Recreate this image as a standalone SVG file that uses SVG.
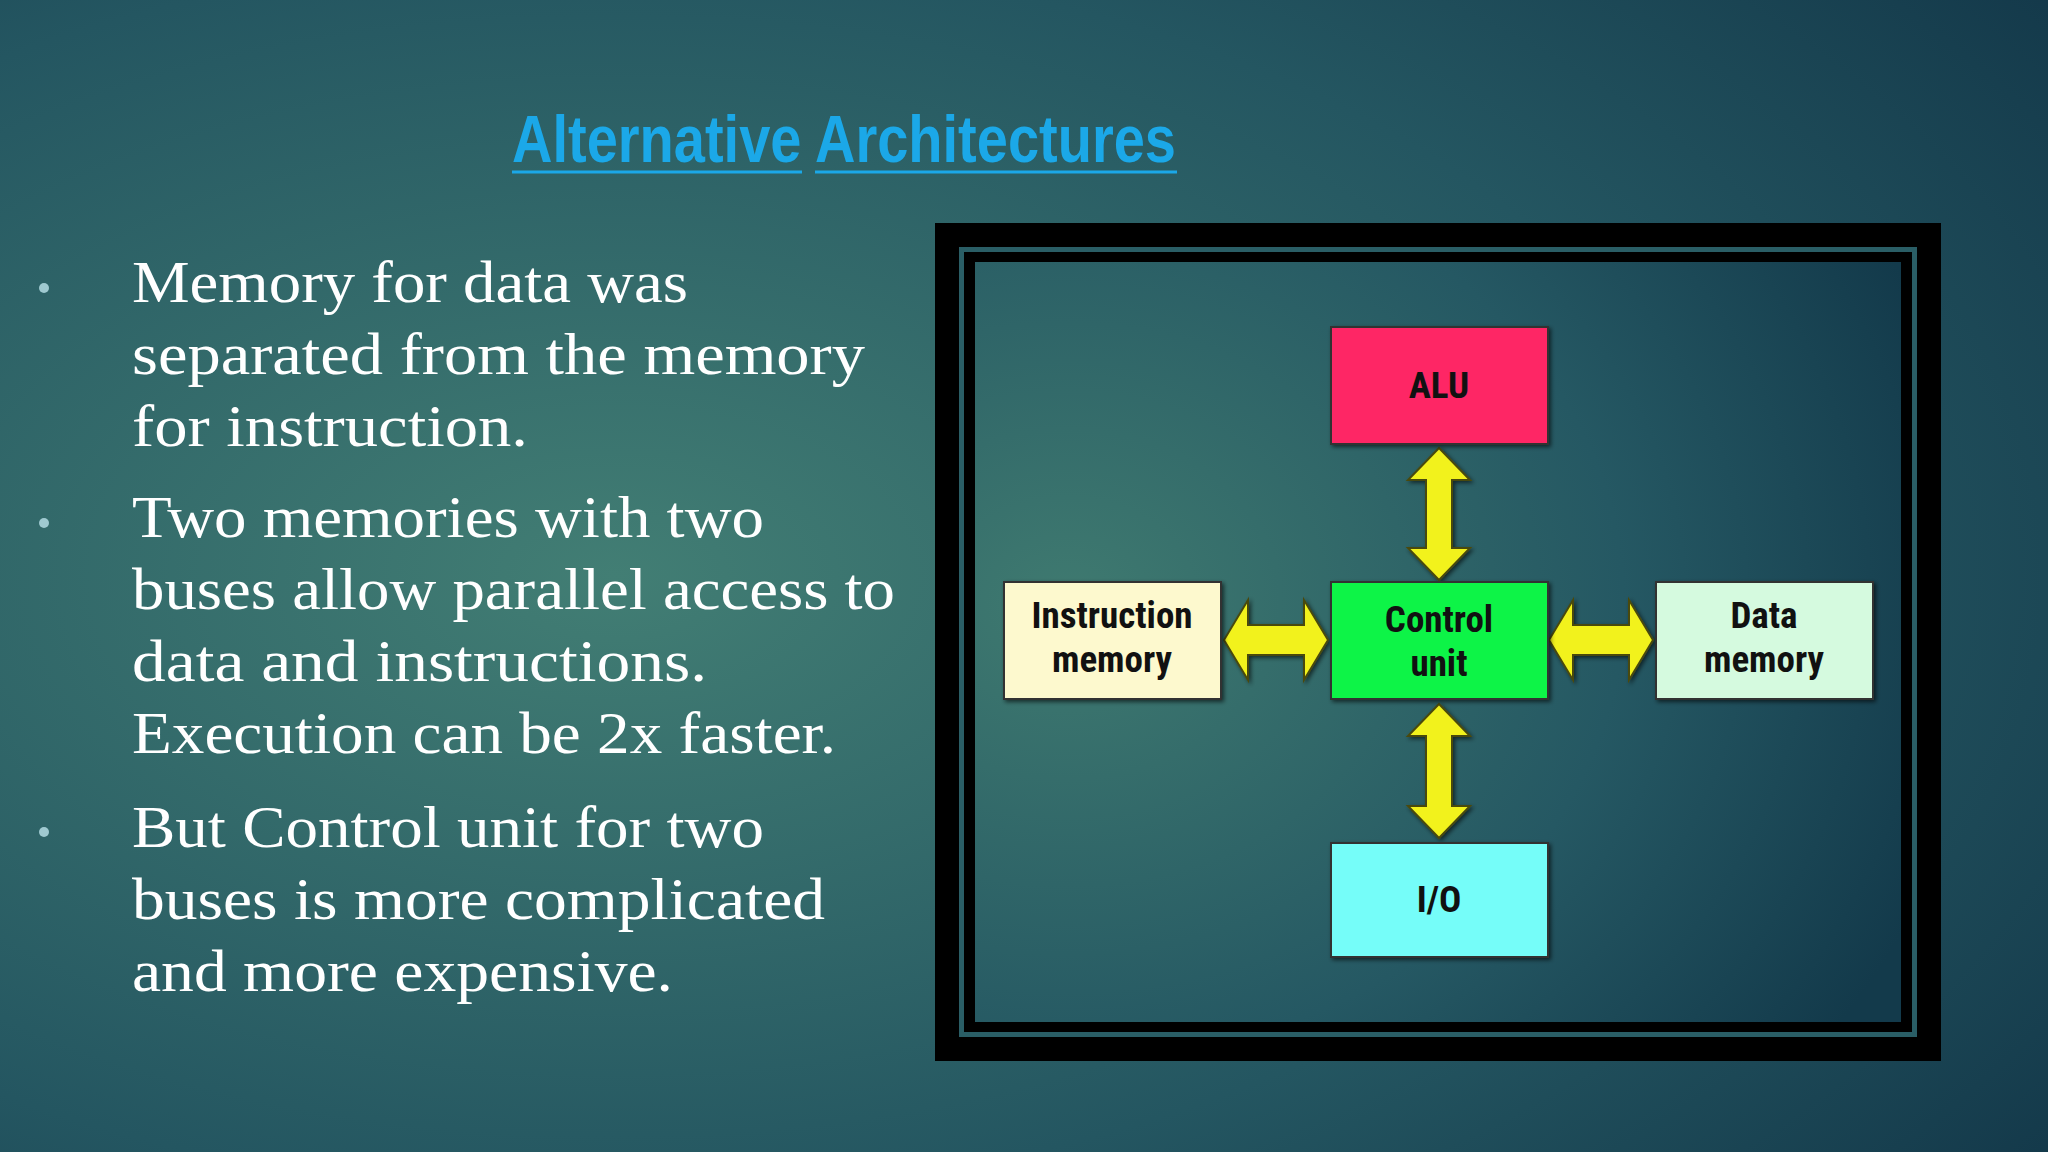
<svg xmlns="http://www.w3.org/2000/svg" width="2048" height="1152" viewBox="0 0 2048 1152">
<defs>
<radialGradient id="bg" cx="0.3" cy="0.5" r="0.9">
<stop offset="0" stop-color="#427e74"/><stop offset="0.6" stop-color="#245661"/><stop offset="1" stop-color="#123648"/>
</radialGradient>
<radialGradient id="pn" cx="0.1" cy="0.45" r="1">
<stop offset="0" stop-color="#3f7a70"/><stop offset="0.6" stop-color="#255863"/><stop offset="1" stop-color="#133a4b"/>
</radialGradient>
<filter id="sh" x="-10%" y="-10%" width="130%" height="130%"><feDropShadow dx="2" dy="2" stdDeviation="2" flood-color="#000" flood-opacity="0.6"/></filter>
</defs>
<style>
.b{font-family:"Liberation Serif","DejaVu Serif",serif;font-size:60px;fill:#fff}
.dot{fill:#9fc9d0}
.n{stroke:#333;stroke-width:2;filter:url(#sh)}
.t{font-family:"Liberation Sans Narrow","Roboto Condensed","Liberation Sans",sans-serif;font-size:37px;font-weight:bold;fill:#111;text-anchor:middle}
.ar{fill:#f2f21c;stroke:#4a4a10;stroke-width:2;filter:url(#sh)}
</style>
<rect width="2048" height="1152" fill="url(#bg)"/>
<g id="title">
<text x="844" y="162" text-anchor="middle" font-family="Liberation Sans Narrow,Liberation Sans,sans-serif" font-weight="bold" font-size="66" fill="#1ba8e8" textLength="664" lengthAdjust="spacingAndGlyphs">Alternative Architectures</text>
<line x1="512" y1="172" x2="802" y2="172" stroke="#1ba8e8" stroke-width="3"/>
<line x1="815" y1="172" x2="1177" y2="172" stroke="#1ba8e8" stroke-width="3"/>
</g>
<g id="bullets">
<circle class="dot" cx="44" cy="288" r="5"/><circle class="dot" cx="44" cy="523" r="5"/><circle class="dot" cx="44" cy="832" r="5"/>
<text class="b" x="132" y="302" textLength="556" lengthAdjust="spacingAndGlyphs">Memory for data was</text>
<text class="b" x="132" y="374" textLength="733" lengthAdjust="spacingAndGlyphs">separated from the memory</text>
<text class="b" x="132" y="446" textLength="396" lengthAdjust="spacingAndGlyphs">for instruction.</text>
<text class="b" x="132" y="537" textLength="632" lengthAdjust="spacingAndGlyphs">Two memories with two</text>
<text class="b" x="132" y="609" textLength="763" lengthAdjust="spacingAndGlyphs">buses allow parallel access to</text>
<text class="b" x="132" y="681" textLength="575" lengthAdjust="spacingAndGlyphs">data and instructions.</text>
<text class="b" x="132" y="753" textLength="704" lengthAdjust="spacingAndGlyphs">Execution can be 2x faster.</text>
<text class="b" x="132" y="847" textLength="632" lengthAdjust="spacingAndGlyphs">But Control unit for two</text>
<text class="b" x="132" y="919" textLength="693" lengthAdjust="spacingAndGlyphs">buses is more complicated</text>
<text class="b" x="132" y="991" textLength="541" lengthAdjust="spacingAndGlyphs">and more expensive.</text>
</g>
<g id="frame">
<rect x="935" y="223" width="1006" height="838" fill="#000"/>
<rect x="959" y="247" width="958" height="790" fill="#2a5e66"/>
<rect x="964" y="252" width="948" height="780" fill="#000"/>
<rect x="975" y="262" width="926" height="760" fill="url(#pn)"/>
</g>
<g id="connectors">
<polygon class="ar" points="1439,448 1470,480 1452,480 1452,548 1470,548 1439,580 1408,548 1426,548 1426,480 1408,480"/>
<polygon class="ar" points="1439,704 1470,736 1452,736 1452,806 1470,806 1439,838 1408,806 1426,806 1426,736 1408,736"/>
<polygon class="ar" points="1224,640 1248,600 1248,625 1304,625 1304,600 1328,640 1304,680 1304,655 1248,655 1248,680"/>
<polygon class="ar" points="1549,640 1573,600 1573,625 1629,625 1629,600 1653,640 1629,680 1629,655 1573,655 1573,680"/>
</g>
<g id="alu"><rect class="n" x="1331" y="327" width="217" height="117" fill="#fe2765"/><text class="t" x="1439" y="398">ALU</text></g>
<g id="control"><rect class="n" x="1331" y="582" width="217" height="117" fill="#0df447"/><text class="t" x="1439" y="632">Control</text><text class="t" x="1439" y="676">unit</text></g>
<g id="io"><rect class="n" x="1331" y="843" width="217" height="114" fill="#74fdf9"/><text class="t" x="1439" y="912">I/O</text></g>
<g id="imem"><rect class="n" x="1004" y="582" width="217" height="117" fill="#fdf9ce"/><text class="t" x="1112" y="628">Instruction</text><text class="t" x="1112" y="672">memory</text></g>
<g id="dmem"><rect class="n" x="1656" y="582" width="217" height="117" fill="#d5fadf"/><text class="t" x="1764" y="628">Data</text><text class="t" x="1764" y="672">memory</text></g>
</svg>
